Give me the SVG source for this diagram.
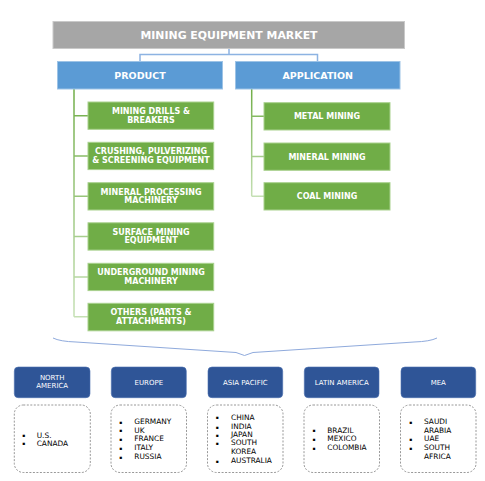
<svg xmlns="http://www.w3.org/2000/svg" width="485" height="481" viewBox="0 0 485 481">
<defs>
<style>
.title{fill:#a6a6a6;stroke:#c9c9c9;stroke-width:1}
.cat{fill:#5b9bd5;stroke:#9dc3e6;stroke-width:1}
.item{fill:#70ad47;stroke:#a9d18e;stroke-width:1}
.reg{fill:#2f5597;stroke:#4a6fae;stroke-width:0.6}
.list{fill:#ffffff;stroke:#7f7f7f;stroke-width:0.8;stroke-dasharray:2 1.5}
.tt{font-family:"DejaVu Sans",Verdana,sans-serif;font-weight:bold;fill:#ffffff;text-anchor:middle}
.t1{font-size:10.9px}
.t2{font-size:9.5px}
.t3{font-size:8px}
.rt{font-family:"DejaVu Sans",Verdana,sans-serif;font-size:7px;fill:#ffffff;text-anchor:middle}
.lt{font-family:"DejaVu Sans",Verdana,sans-serif;font-size:7.4px;fill:#000000}
.bu{font-family:"DejaVu Sans",Verdana,sans-serif;font-size:4.5px;fill:#000000}
.conn{fill:none;stroke-width:1.5}
</style>
<linearGradient id="gl" gradientUnits="userSpaceOnUse" x1="0" y1="89" x2="0" y2="317">
<stop offset="0" stop-color="#70ad47"/>
<stop offset="1" stop-color="#c5e0b4"/>
</linearGradient>
<linearGradient id="gr" gradientUnits="userSpaceOnUse" x1="0" y1="89" x2="0" y2="197">
<stop offset="0" stop-color="#70ad47"/>
<stop offset="1" stop-color="#c5e0b4"/>
</linearGradient>
</defs>
<rect width="485" height="481" fill="#ffffff"/>

<g id="connectors">
<path class="conn" stroke="#8db3e2" d="M229,48.7 V54.5 M140,61 V54.5 H317.5 V61"/>
<path class="conn" stroke="url(#gl)" d="M74,89 V316.7 M74,115.7 H88 M74,156 H88 M74,196.3 H88 M74,236.5 H88 M74,277 H88 M74,316.7 H88"/>
<path class="conn" stroke="url(#gr)" d="M251.7,89 V196.3 M251.7,116.3 H264 M251.7,156.6 H264 M251.7,196.3 H264"/>
<path fill="none" stroke="#8faadc" stroke-width="1" d="M53,338 Q60,341.5 76,342 L236,352.5 L244.5,355.5 L253,352.5 L414,342 Q430,341.5 437,338"/>
</g>

<g id="title">
<rect class="title" x="53" y="21.5" width="351.5" height="27"/>
<text class="tt t1" x="229" y="39">MINING EQUIPMENT MARKET</text>
</g>

<g id="product">
<rect class="cat" x="57.5" y="61.5" width="165" height="27.5"/>
<text class="tt t2" x="140" y="78.5">PRODUCT</text>
</g>
<g id="application">
<rect class="cat" x="235.5" y="61.5" width="164.5" height="27.5"/>
<text class="tt t2" x="317.7" y="78.5">APPLICATION</text>
</g>

<g id="p1">
<rect class="item" x="88" y="102" width="125.7" height="27.3"/>
<text class="tt t3" x="151" y="114">MINING DRILLS &amp;</text>
<text class="tt t3" x="151" y="122.6">BREAKERS</text>
</g>
<g id="p2">
<rect class="item" x="88" y="142.3" width="125.7" height="27.3"/>
<text class="tt t3" x="151" y="154.3">CRUSHING, PULVERIZING</text>
<text class="tt t3" x="151" y="162.9">&amp; SCREENING EQUIPMENT</text>
</g>
<g id="p3">
<rect class="item" x="88" y="182.7" width="125.7" height="27.3"/>
<text class="tt t3" x="151" y="194.7">MINERAL PROCESSING</text>
<text class="tt t3" x="151" y="203.3">MACHINERY</text>
</g>
<g id="p4">
<rect class="item" x="88" y="222.8" width="125.7" height="27.3"/>
<text class="tt t3" x="151" y="234.8">SURFACE MINING</text>
<text class="tt t3" x="151" y="243.4">EQUIPMENT</text>
</g>
<g id="p5">
<rect class="item" x="88" y="263.3" width="125.7" height="27.3"/>
<text class="tt t3" x="151" y="275.3">UNDERGROUND MINING</text>
<text class="tt t3" x="151" y="283.9">MACHINERY</text>
</g>
<g id="p6">
<rect class="item" x="88" y="303.3" width="125.7" height="27.5"/>
<text class="tt t3" x="151" y="315.3">OTHERS (PARTS &amp;</text>
<text class="tt t3" x="151" y="323.9">ATTACHMENTS)</text>
</g>

<g id="a1">
<rect class="item" x="264" y="102.7" width="126" height="27.3"/>
<text class="tt t3" x="327" y="119.2">METAL MINING</text>
</g>
<g id="a2">
<rect class="item" x="264" y="143" width="126" height="27.3"/>
<text class="tt t3" x="327" y="159.5">MINERAL MINING</text>
</g>
<g id="a3">
<rect class="item" x="264" y="182.7" width="126" height="27.3"/>
<text class="tt t3" x="327" y="199.2">COAL MINING</text>
</g>

<g id="north-america">
<rect class="reg" x="14.3" y="367" width="75.7" height="30.7" rx="4"/>
<text class="rt" x="52.2" y="379.8">NORTH</text>
<text class="rt" x="52.2" y="388.2">AMERICA</text>
<rect class="list" x="14.3" y="405" width="76" height="67.5" rx="9"/>
<text class="bu" x="22.3" y="437">▪</text><text class="lt" x="36.7" y="437.5">U.S.</text>
<text class="bu" x="22.3" y="445.3">▪</text><text class="lt" x="36.7" y="445.8">CANADA</text>
</g>

<g id="europe">
<rect class="reg" x="111.3" y="367" width="75" height="30.7" rx="4"/>
<text class="rt" x="148.8" y="384.5">EUROPE</text>
<rect class="list" x="111" y="405" width="75.5" height="67.5" rx="9"/>
<text class="bu" x="119.2" y="423.7">▪</text><text class="lt" x="134.3" y="424.2">GERMANY</text>
<text class="bu" x="119.2" y="432.2">▪</text><text class="lt" x="134.3" y="432.7">UK</text>
<text class="bu" x="119.2" y="440.8">▪</text><text class="lt" x="134.3" y="441.3">FRANCE</text>
<text class="bu" x="119.2" y="449.7">▪</text><text class="lt" x="134.3" y="450.2">ITALY</text>
<text class="bu" x="119.2" y="458.7">▪</text><text class="lt" x="134.3" y="459.2">RUSSIA</text>
</g>

<g id="asia-pacific">
<rect class="reg" x="208" y="367" width="74.7" height="30.7" rx="4"/>
<text class="rt" x="245.3" y="384.5">ASIA PACIFIC</text>
<rect class="list" x="207.5" y="405" width="75.5" height="67.5" rx="9"/>
<text class="bu" x="215.8" y="419.3">▪</text><text class="lt" x="231" y="419.8">CHINA</text>
<text class="bu" x="215.8" y="428.7">▪</text><text class="lt" x="231" y="429.2">INDIA</text>
<text class="bu" x="215.8" y="436.7">▪</text><text class="lt" x="231" y="437.2">JAPAN</text>
<text class="bu" x="215.8" y="444.7">▪</text><text class="lt" x="231" y="445.2">SOUTH</text>
<text class="lt" x="231" y="453.8">KOREA</text>
<text class="bu" x="215.8" y="462.7">▪</text><text class="lt" x="231" y="463.2">AUSTRALIA</text>
</g>

<g id="latin-america">
<rect class="reg" x="304.3" y="367" width="74.7" height="30.7" rx="4"/>
<text class="rt" x="341.7" y="384.5">LATIN AMERICA</text>
<rect class="list" x="304" y="405" width="75.5" height="67.5" rx="9"/>
<text class="bu" x="312.4" y="432">▪</text><text class="lt" x="327.3" y="432.5">BRAZIL</text>
<text class="bu" x="312.4" y="440.7">▪</text><text class="lt" x="327.3" y="441.2">MEXICO</text>
<text class="bu" x="312.4" y="449.7">▪</text><text class="lt" x="327.3" y="450.2">COLOMBIA</text>
</g>

<g id="mea">
<rect class="reg" x="401" y="367" width="74.7" height="30.7" rx="4"/>
<text class="rt" x="438.3" y="384.5">MEA</text>
<rect class="list" x="400.5" y="405" width="75.5" height="67.5" rx="9"/>
<text class="bu" x="409.2" y="423.7">▪</text><text class="lt" x="424" y="424.2">SAUDI</text>
<text class="lt" x="424" y="432.5">ARABIA</text>
<text class="bu" x="409.2" y="440.7">▪</text><text class="lt" x="424" y="441.2">UAE</text>
<text class="bu" x="409.2" y="449.7">▪</text><text class="lt" x="424" y="450.2">SOUTH</text>
<text class="lt" x="424" y="459.2">AFRICA</text>
</g>
</svg>
